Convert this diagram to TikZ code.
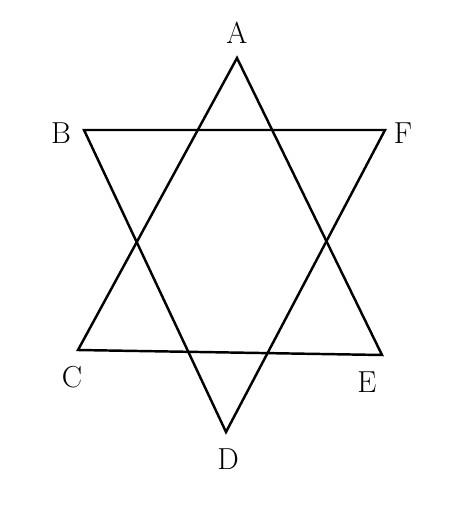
\documentclass[tikz,border=0pt]{standalone}
\usepackage{tikz}
\usetikzlibrary{positioning}

\begin{document}
\begin{tikzpicture}[x=0.02cm,y=-0.02cm,line width=1.4pt,
  lbl/.style={font=\LARGE,inner sep=1pt}]
  \useasboundingbox (0,0) rectangle (474,514);
  \coordinate (A) at (237,58);
  \coordinate (C) at (78,350);
  \coordinate (E) at (382,355);
  \coordinate (B) at (84,130);
  \coordinate (F) at (385,130);
  \coordinate (D) at (226,432);
\tikzset{every node/.style={lbl}}
  \node (la) at (237,33)  {A};
  \node (lb) at (61,133)  {B};
  \node (lf) at (403,133) {F};
  \node (lc) at (72,377)  {C};
  \node (le) at (367,382) {E};
  \node (ld) at (228,459) {D};
  \draw (A) -- (C) -- (E) -- cycle;
  \draw (B) -- (F) -- (D) -- cycle;
\end{tikzpicture}
\end{document}
